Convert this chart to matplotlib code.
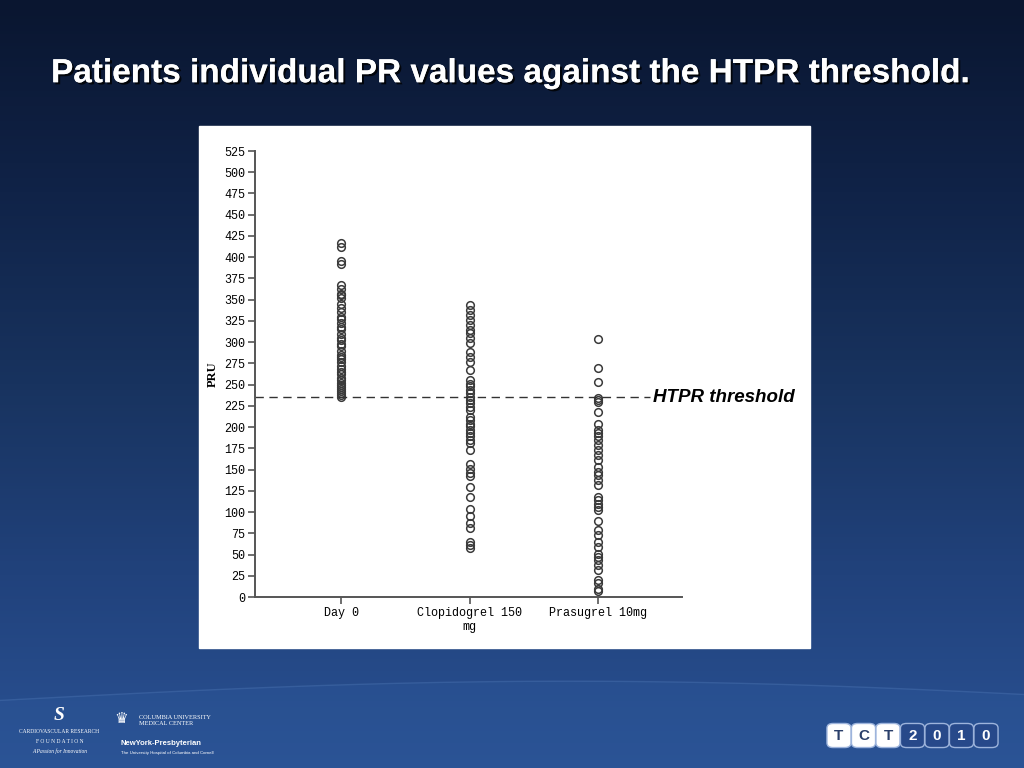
import numpy as np
import matplotlib
matplotlib.use("Agg")
from matplotlib import pyplot as plt
from matplotlib import patheffects as pe
from matplotlib.colors import LinearSegmentedColormap
from matplotlib.patches import FancyBboxPatch, Rectangle

# data
groups = ['Day 0', 'Clopidogrel 150\nmg', 'Prasugrel 10mg']
ytick_vals = list(range(0, 526, 25))
threshold = 235

day0 = [417, 412, 395, 392, 367, 362, 357, 355, 352, 345, 340, 335, 330, 327,
        322, 318, 315, 310, 305, 302, 298, 295, 290, 285, 282, 280, 277, 272,
        268, 265, 262, 258, 255, 252, 250, 247, 245, 242, 240, 238, 236]
clopidogrel = [344, 338, 332, 326, 320, 314, 311, 305, 299, 288, 283, 277, 267,
               255, 251, 248, 244, 240, 236, 232, 228, 224, 220, 212, 208, 204,
               201, 197, 193, 189, 185, 181, 173, 157, 151, 146, 142, 130, 118,
               104, 95, 87, 81, 65, 61, 58]
prasugrel = [304, 269, 253, 234, 232, 230, 218, 204, 197, 193, 189, 185, 179,
             173, 167, 161, 153, 147, 144, 138, 132, 118, 114, 110, 106, 102,
             89, 79, 73, 65, 59, 51, 47, 44, 38, 32, 20, 16, 10, 7]
series = [day0, clopidogrel, prasugrel]

fig = plt.figure(figsize=(10.24, 7.68), dpi=100)

# slide background
bg = fig.add_axes([0, 0, 1, 1])
bg.set_axis_off()
cmap = LinearSegmentedColormap.from_list(
    'slide', ['#0a1630', '#102348', '#18335f', '#21427c', '#2a5294'])
grad = np.linspace(0, 1, 256).reshape(-1, 1)
bg.imshow(grad, aspect='auto', cmap=cmap, extent=[0, 1, 0, 1], origin='upper')
xs = np.linspace(0, 1, 100)
wave = 0.088 + 0.025 * np.sin(xs * np.pi * 0.9)
bg.fill_between(xs, 0, wave, color='#2c5698', alpha=0.45, lw=0)
bg.plot(xs, wave, color='#4a72b0', lw=1.0, alpha=0.45)
bg.set_xlim(0, 1)
bg.set_ylim(0, 1)

fig.text(0.5, 0.904, 'Patients individual PR values against the HTPR threshold.',
         ha='center', va='center', color='white', fontsize=24,
         fontweight='bold', family='Liberation Sans',
         path_effects=[pe.withSimplePatchShadow(offset=(1.5, -1.5),
                                                shadow_rgbFace='black',
                                                alpha=0.8), pe.Normal()])

# white picture panel
fig.patches.append(Rectangle((199 / 1024, 1 - 648 / 768), 611 / 1024, 522 / 768,
                             transform=fig.transFigure, color='white', zorder=1))

ax = fig.add_axes([255 / 1024, 1 - 597 / 768, 427 / 1024, 446 / 768])
ax.set_facecolor('white')
ax.set_zorder(2)
for i, vals in enumerate(series):
    ax.plot([i] * len(vals), vals, 'o', mfc='none', mec='#3a3a3a',
            ms=5.5, mew=1.1, clip_on=False)

ax.axhline(threshold, xmin=0, xmax=0.925, color='#333333', lw=1.0,
           dashes=(6, 4))
ax.text(0.932, threshold, 'HTPR threshold', transform=ax.get_yaxis_transform(),
        ha='left', va='center', fontsize=13.5, fontweight='bold',
        style='italic', family='Liberation Sans', color='black')

ax.set_xlim(-0.67, 2.65)
ax.set_ylim(0, 525)
ax.set_yticks(ytick_vals)
ax.set_xticks(range(len(groups)))
ax.set_xticklabels(groups, family='Liberation Mono', fontsize=8.5)
ax.set_yticklabels([str(v) for v in ytick_vals], family='Liberation Mono',
                   fontsize=8.5)
for s in ['top', 'right']:
    ax.spines[s].set_visible(False)
for s in ['left', 'bottom']:
    ax.spines[s].set_color('#555555')
    ax.spines[s].set_linewidth(1.4)
ax.tick_params(direction='out', length=5, width=1.2, color='#555555', pad=2)
ax.set_ylabel('PRU', family='Liberation Serif', fontweight='bold', fontsize=9,
              labelpad=4)

# logos (text approximation)
fig.text(0.058, 0.045, 'CARDIOVASCULAR RESEARCH', color='white', fontsize=4,
         ha='center', family='Liberation Serif')
fig.text(0.058, 0.032, 'F O U N D A T I O N', color='white', fontsize=4,
         ha='center', family='Liberation Serif')
fig.text(0.058, 0.019, 'A Passion for Innovation', color='white', fontsize=4,
         ha='center', family='Liberation Serif', style='italic')
fig.text(0.058, 0.062, 'S', color='white', fontsize=14, ha='center',
         fontweight='bold', style='italic', family='Liberation Serif')
fig.text(0.136, 0.056, 'COLUMBIA UNIVERSITY\nMEDICAL CENTER', color='white',
         fontsize=4.5, family='Liberation Serif', linespacing=1.2)
fig.text(0.118, 0.058, '\u265b', color='white', fontsize=11, ha='center',
         family='DejaVu Sans')
fig.text(0.118, 0.030, 'NewYork-Presbyterian', color='white', fontsize=5.5,
         fontweight='bold', family='Liberation Sans')
fig.text(0.118, 0.018, 'The University Hospital of Columbia and Cornell',
         color='white', fontsize=3.2, family='Liberation Sans')

letters = ['T', 'C', 'T', '2', '0', '1', '0']
x0 = 829
for k, ch in enumerate(letters):
    light = k < 3
    bx = (x0 + k * 24.5) / 1024
    fig.patches.append(FancyBboxPatch(
        (bx, 22 / 768), 20 / 1024, 21 / 768,
        boxstyle='round,pad=0.002,rounding_size=0.006',
        transform=fig.transFigure,
        fc='white' if light else '#27498a', ec='#9db4dc', lw=1.0))
    fig.text(bx + 10 / 1024, 32.5 / 768, ch, ha='center', va='center',
             fontsize=11, fontweight='bold', family='Liberation Sans',
             color='#2a3f6a' if light else 'white')

fig.savefig('out.png', dpi=100)
